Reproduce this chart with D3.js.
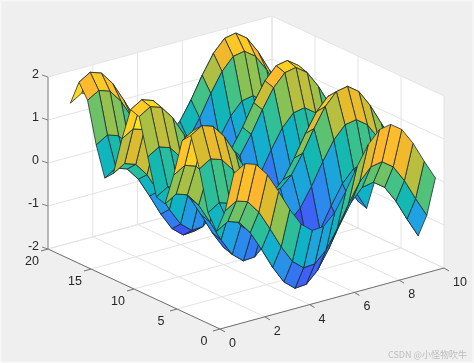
<!DOCTYPE html>
<html>
<head>
<meta charset="utf-8">
<script src="https://cdn.jsdelivr.net/npm/d3@7"></script>
<style>
  html, body { margin: 0; padding: 0; background: #efefef; overflow: hidden; }
  svg { filter: blur(0.35px); }
  text { font-family: "Liberation Sans", Arial, sans-serif; fill: #262626; font-size: 12.5px; }
</style>
</head>
<body>
<div id="chart"></div>
<script>
// surface samples
const xValues = [1, 1.5, 2, 2.5, 3, 3.5, 4, 4.5, 5, 5.5, 6, 6.5, 7, 7.5, 8, 8.5, 9, 9.5, 10];
const yValues = [1, 2, 3, 4, 5, 6, 7, 8, 9, 10, 11, 12, 13, 14, 15, 16, 17, 18, 19, 20];
const zRows = [
  [1.38, 1.54, 1.45, 1.14, .68, .19, -.22, -.44, -.42, -.17, .26, .76, 1.20, 1.48, 1.53, 1.34, .95, .46, .00],
  [.42, .58, .49, .18, -.28, -.77, -1.18, -1.40, -1.38, -1.13, -.70, -.20, .24, .52, .57, .38, -.01, -.50, -.96],
  [-.15, .01, -.08, -.39, -.85, -1.34, -1.75, -1.97, -1.95, -1.70, -1.27, -.77, -.33, -.05, .00, -.19, -.58, -1.07, -1.53],
  [.19, .35, .26, -.05, -.51, -1.00, -1.41, -1.63, -1.61, -1.36, -.93, -.43, .01, .29, .34, .15, -.24, -.73, -1.19],
  [1.12, 1.28, 1.19, .88, .42, -.07, -.48, -.70, -.68, -.43, .00, .50, .94, 1.22, 1.27, 1.08, .69, .20, -.26],
  [1.80, 1.96, 1.87, 1.56, 1.10, .61, .20, -.02, .00, .25, .68, 1.18, 1.62, 1.90, 1.95, 1.76, 1.37, .88, .42],
  [1.59, 1.75, 1.66, 1.35, .89, .40, -.01, -.23, -.21, .04, .47, .97, 1.41, 1.69, 1.74, 1.55, 1.16, .67, .21],
  [.69, .85, .76, .45, -.01, -.50, -.91, -1.13, -1.11, -.86, -.43, .07, .51, .79, .84, .65, .26, -.23, -.69],
  [-.07, .09, .00, -.31, -.77, -1.26, -1.67, -1.89, -1.87, -1.62, -1.19, -.69, -.25, .03, .08, -.11, -.50, -.99, -1.45],
  [.00, .16, .07, -.24, -.70, -1.19, -1.60, -1.82, -1.80, -1.55, -1.12, -.62, -.18, .10, .15, -.04, -.43, -.92, -1.38],
  [.84, 1.00, .91, .60, .14, -.35, -.76, -.98, -.96, -.71, -.28, .22, .66, .94, .99, .80, .41, -.08, -.54],
  [1.68, 1.84, 1.75, 1.44, .98, .49, .08, -.14, -.12, .13, .56, 1.06, 1.50, 1.78, 1.83, 1.64, 1.25, .76, .30],
  [1.75, 1.91, 1.82, 1.51, 1.05, .56, .15, -.07, -.05, .20, .63, 1.13, 1.57, 1.85, 1.90, 1.71, 1.32, .83, .37],
  [.98, 1.14, 1.05, .74, .28, -.21, -.62, -.84, -.82, -.57, -.14, .36, .80, 1.08, 1.13, .94, .55, .06, -.40],
  [.08, .24, .15, -.16, -.62, -1.11, -1.52, -1.74, -1.72, -1.47, -1.04, -.54, -.10, .18, .23, .04, -.35, -.84, -1.30],
  [-.12, .04, -.05, -.36, -.82, -1.31, -1.72, -1.94, -1.92, -1.67, -1.24, -.74, -.30, -.02, .03, -.16, -.55, -1.04, -1.50],
  [.56, .72, .63, .32, -.14, -.63, -1.04, -1.26, -1.24, -.99, -.56, -.06, .38, .66, .71, .52, .13, -.36, -.82],
  [1.50, 1.66, 1.57, 1.26, .80, .31, -.10, -.32, -.30, -.05, .38, .88, 1.32, 1.60, 1.65, 1.46, 1.07, .58, .12],
  [1.83, 1.99, 1.90, 1.59, 1.13, .64, .23, .01, .03, .28, .71, 1.21, 1.65, 1.93, 1.98, 1.79, 1.40, .91, .45],
  [1.25, 1.41, 1.32, 1.01, .55, .06, -.35, -.57, -.55, -.30, .13, .63, 1.07, 1.35, 1.40, 1.21, .82, .33, -.13]
];

const xTicks = [0, 2, 4, 6, 8, 10];
const yTicks = [0, 5, 10, 15, 20];
const zTicks = [-2, -1, 0, 1, 2];

// colormap as it looks in the picture (position in the z range --> colour)
const colorPositions = [0, .06, .145, .24, .376, .44, .49, .55, .61, .67, .76, .79, .87, .90, .95, 1];
const colorStops = ['#3e26a8', '#3e3cf0', '#3e60f5', '#2f84f0', '#1fa2e0', '#10b2c8', '#12b7b4', '#2ebf98',
  '#4cc27c', '#90c250', '#c8bd38', '#e0bc2c', '#ffb62e', '#ffc628', '#ffd11f', '#f9f020'];

const width = 474, height = 363;

// screen positions of the box corners
const ORIGIN = [220, 329];     // x=0, y=0, z=-2
const X_EDGE = [224, -61];     // going from x=0 to x=10
const Y_EDGE = [-172, -80];    // going from y=0 to y=20
const Z_EDGE = [0, -172];      // going from z=-2 to z=2

const xScale = d3.scaleLinear().domain([0, 10]).range([0, 1]);
const yScale = d3.scaleLinear().domain([0, 20]).range([0, 1]);
const zScale = d3.scaleLinear().domain([-2, 2]).range([0, 1]);

// data coords --> pixel
function project(x, y, z) {
  const a = xScale(x), b = yScale(y), c = zScale(z);
  return [
    ORIGIN[0] + a * X_EDGE[0] + b * Y_EDGE[0] + c * Z_EDGE[0],
    ORIGIN[1] + a * X_EDGE[1] + b * Y_EDGE[1] + c * Z_EDGE[1]
  ];
}

// bigger = closer to the camera
function nearness(x, y, z) {
  return -0.57 * xScale(x) - 0.74 * yScale(y) + 0.23 * zScale(z);
}

const zExtent = d3.extent(zRows.flat());
const colorScale = d3.scaleLinear()
  .domain(colorPositions.map(d3.scaleLinear().domain([0, 1]).range(zExtent)))
  .range(colorStops);

const svg = d3.select('#chart').append('svg')
  .attr('width', width)
  .attr('height', height)
  .style('display', 'block');

const line = d3.line();

// lighter rim of the screenshot
svg.append('rect')
  .attr('width', width)
  .attr('height', height)
  .attr('fill', 'none')
  .attr('stroke', '#f7f7f7')
  .attr('stroke-width', 3);

/************* box *************/
svg.append('path')
  .attr('d', line([
    project(0, 20, 2), project(10, 20, 2), project(10, 0, 2),
    project(10, 0, -2), project(0, 0, -2), project(0, 20, -2)
  ]) + 'Z')
  .attr('fill', '#fff');

const gGrid = svg.append('g')
  .attr('fill', 'none')
  .attr('stroke', '#e4e4e4')
  .attr('stroke-width', 1);

function gridLine(points) {
  gGrid.append('path').attr('d', line(points));
}

xTicks.forEach(x => {
  gridLine([project(x, 0, -2), project(x, 20, -2), project(x, 20, 2)]);
});
yTicks.forEach(y => {
  gridLine([project(0, y, -2), project(10, y, -2), project(10, y, 2)]);
});
zTicks.forEach(z => {
  gridLine([project(0, 20, z), project(10, 20, z), project(10, 0, z)]);
});

/************* surface *************/
const faces = [];
for (let j = 0; j < yValues.length - 1; j++) {
  for (let i = 0; i < xValues.length - 1; i++) {
    const corners = [[i, j], [i + 1, j], [i + 1, j + 1], [i, j + 1]]
      .map(([a, b]) => [xValues[a], yValues[b], zRows[b][a]]);
    faces.push({
      corners,
      value: zRows[j][i],
      depth: d3.mean(corners, c => nearness(c[0], c[1], c[2]))
    });
  }
}
faces.sort((a, b) => a.depth - b.depth);

svg.append('g').selectAll('path')
  .data(faces)
  .join('path')
  .attr('d', d => line(d.corners.map(c => project(c[0], c[1], c[2]))) + 'Z')
  .attr('fill', d => colorScale(d.value))
  .attr('stroke', '#1a2c32')
  .attr('stroke-width', 0.8)
  .attr('stroke-linejoin', 'round');

/************* axes *************/
const gAxes = svg.append('g').attr('fill', 'none').attr('stroke-width', 1);

gAxes.append('path')
  .attr('d', line([project(0, 20, 2), project(0, 20, -2)]))
  .attr('stroke', '#a6a6a6').attr('stroke-width', 1.5);
gAxes.append('path')
  .attr('d', line([project(0, 20, -2), project(0, 0, -2), project(10, 0, -2)]))
  .attr('stroke', '#707070');

zTicks.forEach(z => {
  const p = project(0, 20, z);
  gAxes.append('path').attr('d', line([p, [p[0] - 6, p[1] - 2]])).attr('stroke', '#808080');
  svg.append('text')
    .attr('x', p[0] - 9).attr('y', p[1] + 1)
    .attr('text-anchor', 'end')
    .text(z);
});

yTicks.forEach(y => {
  const p = project(0, y, -2);
  gAxes.append('path').attr('d', line([p, [p[0] - 7, p[1] + 2]])).attr('stroke', '#707070');
  svg.append('text')
    .attr('x', p[0] - 16).attr('y', p[1] + 16)
    .attr('text-anchor', 'middle')
    .text(y);
});

xTicks.forEach(x => {
  const p = project(x, 0, -2);
  gAxes.append('path').attr('d', line([p, [p[0] + 5, p[1] + 3]])).attr('stroke', '#707070');
  svg.append('text')
    .attr('x', p[0] + 9).attr('y', p[1] + 18)
    .attr('text-anchor', 'start')
    .text(x);
});

/************* watermark *************/
svg.append('text')
  .attr('x', 467).attr('y', 358)
  .attr('text-anchor', 'end')
  .style('font-family', '"Noto Sans CJK SC", "Liberation Sans", sans-serif')
  .style('font-size', '9px')
  .style('fill', '#bdbdbd')
  .text('CSDN @小怪物吹牛');
</script>
</body>
</html>
